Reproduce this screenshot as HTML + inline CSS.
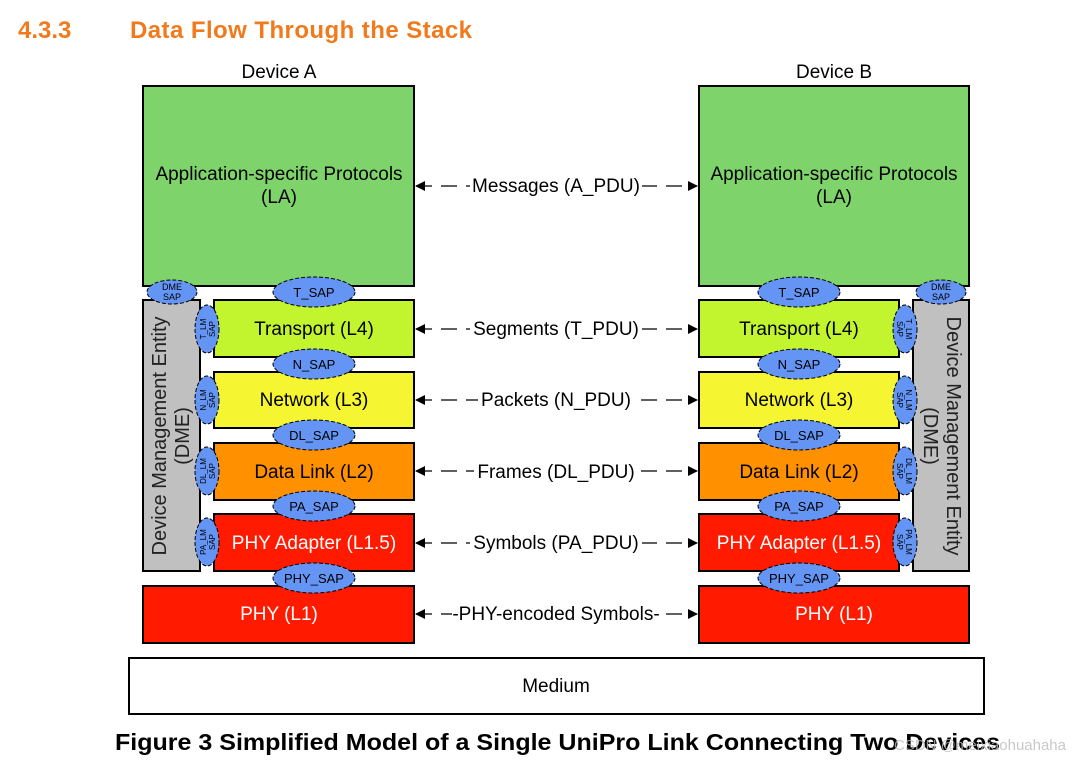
<!DOCTYPE html>
<html><head><meta charset="utf-8"><style>body{margin:0;background:#fff}svg{display:block}</style></head>
<body>
<svg width="1080" height="761" viewBox="0 0 1080 761" xmlns="http://www.w3.org/2000/svg" font-family="Liberation Sans, Arial, sans-serif">
<defs>
<marker id="ah" markerWidth="10" markerHeight="10" refX="9" refY="5" orient="auto-start-reverse" markerUnits="userSpaceOnUse"><path d="M0,0 L10,5 L0,10 z" fill="#000"/></marker>
</defs>
<text x="18" y="38" font-size="24" font-weight="bold" fill="#f07a1c">4.3.3</text>
<text x="130" y="38" font-size="24" font-weight="bold" fill="#f07a1c" textLength="342">Data Flow Through the Stack</text>
<text x="279" y="78" font-size="19" text-anchor="middle">Device A</text>
<text x="834" y="78" font-size="19" text-anchor="middle">Device B</text>

<g stroke="#000" stroke-width="2">
<rect x="143" y="86" width="271" height="200" fill="#7ed46a"/>
<rect x="143" y="300" width="57" height="271" fill="#c0c0c0"/>
<rect x="214" y="300" width="200" height="57" fill="#c3f52f"/>
<rect x="214" y="372" width="200" height="56" fill="#f5f532"/>
<rect x="214" y="443" width="200" height="57" fill="#ff9000"/>
<rect x="214" y="514" width="200" height="57" fill="#ff1a00"/>
<rect x="143" y="586" width="271" height="57" fill="#ff1a00"/>
<rect x="699" y="86" width="270" height="200" fill="#7ed46a"/>
<rect x="913" y="300" width="56" height="271" fill="#c0c0c0"/>
<rect x="699" y="300" width="200" height="57" fill="#c3f52f"/>
<rect x="699" y="372" width="200" height="56" fill="#f5f532"/>
<rect x="699" y="443" width="200" height="57" fill="#ff9000"/>
<rect x="699" y="514" width="200" height="57" fill="#ff1a00"/>
<rect x="699" y="586" width="270" height="57" fill="#ff1a00"/>
<rect x="129" y="658" width="855" height="56" fill="#fff"/>
</g>

<g font-size="19" text-anchor="middle">
<text x="279" y="180">Application-specific Protocols</text><text x="279" y="203">(LA)</text>
<text x="834" y="180">Application-specific Protocols</text><text x="834" y="203">(LA)</text>
<text x="314" y="335">Transport (L4)</text><text x="799" y="335">Transport (L4)</text>
<text x="314" y="406">Network (L3)</text><text x="799" y="406">Network (L3)</text>
<text x="314" y="478">Data Link (L2)</text><text x="799" y="478">Data Link (L2)</text>
<text x="314" y="549" fill="#fff">PHY Adapter (L1.5)</text><text x="799" y="549" fill="#fff">PHY Adapter (L1.5)</text>
<text x="279" y="620" fill="#fff">PHY (L1)</text><text x="834" y="620" fill="#fff">PHY (L1)</text>
<text x="556" y="692">Medium</text>
</g>
<text transform="translate(166,436) rotate(-90)" font-size="20" text-anchor="middle" fill="#222">Device Management Entity</text>
<text transform="translate(189,436) rotate(-90)" font-size="20" text-anchor="middle" fill="#222">(DME)</text>
<text transform="translate(947,436) rotate(90)" font-size="20" text-anchor="middle" fill="#222">Device Management Entity</text>
<text transform="translate(924,436) rotate(90)" font-size="20" text-anchor="middle" fill="#222">(DME)</text>

<g fill="#6495f5" stroke="#000" stroke-width="1" stroke-dasharray="4,2">
<ellipse cx="314" cy="292" rx="41" ry="15"/><ellipse cx="314" cy="364" rx="41" ry="15"/><ellipse cx="314" cy="435" rx="41" ry="15"/><ellipse cx="314" cy="506" rx="41" ry="15"/><ellipse cx="314" cy="578" rx="41" ry="15"/>
<ellipse cx="799" cy="292" rx="41" ry="15"/><ellipse cx="799" cy="364" rx="41" ry="15"/><ellipse cx="799" cy="435" rx="41" ry="15"/><ellipse cx="799" cy="506" rx="41" ry="15"/><ellipse cx="799" cy="578" rx="41" ry="15"/>
<ellipse cx="172" cy="292" rx="25" ry="12"/><ellipse cx="941" cy="292" rx="25" ry="12"/>
<ellipse cx="207" cy="329" rx="12" ry="24"/><ellipse cx="207" cy="400" rx="12" ry="24"/><ellipse cx="207" cy="471" rx="12" ry="24"/><ellipse cx="207" cy="542" rx="12" ry="24"/>
<ellipse cx="905" cy="329" rx="12" ry="24"/><ellipse cx="905" cy="400" rx="12" ry="24"/><ellipse cx="905" cy="471" rx="12" ry="24"/><ellipse cx="905" cy="542" rx="12" ry="24"/>
</g>
<g font-size="13" text-anchor="middle">
<text x="314" y="297">T_SAP</text><text x="314" y="369">N_SAP</text><text x="314" y="440">DL_SAP</text><text x="314" y="511">PA_SAP</text><text x="314" y="583">PHY_SAP</text>
<text x="799" y="297">T_SAP</text><text x="799" y="369">N_SAP</text><text x="799" y="440">DL_SAP</text><text x="799" y="511">PA_SAP</text><text x="799" y="583">PHY_SAP</text>
</g>
<g font-size="9" text-anchor="middle">
<text x="172" y="290">DME</text><text x="172" y="300">SAP</text>
<text x="941" y="290">DME</text><text x="941" y="300">SAP</text>
</g>
<g font-size="8" text-anchor="middle">
<g transform="translate(207,329) rotate(-90)"><text x="0" y="-1">T_LM</text><text x="0" y="8">SAP</text></g>
<g transform="translate(207,400) rotate(-90)"><text x="0" y="-1">N_LM</text><text x="0" y="8">SAP</text></g>
<g transform="translate(207,471) rotate(-90)"><text x="0" y="-1">DL_LM</text><text x="0" y="8">SAP</text></g>
<g transform="translate(207,542) rotate(-90)"><text x="0" y="-1">PA_LM</text><text x="0" y="8">SAP</text></g>
<g transform="translate(905,329) rotate(90)"><text x="0" y="-1">T_LM</text><text x="0" y="8">SAP</text></g>
<g transform="translate(905,400) rotate(90)"><text x="0" y="-1">N_LM</text><text x="0" y="8">SAP</text></g>
<g transform="translate(905,471) rotate(90)"><text x="0" y="-1">DL_LM</text><text x="0" y="8">SAP</text></g>
<g transform="translate(905,542) rotate(90)"><text x="0" y="-1">PA_LM</text><text x="0" y="8">SAP</text></g>
</g>

<g stroke="#000" stroke-width="1.3" stroke-dasharray="16,9" fill="none">
<line x1="416" y1="186" x2="697" y2="186" marker-start="url(#ah)" marker-end="url(#ah)"/>
<line x1="416" y1="329" x2="697" y2="329" marker-start="url(#ah)" marker-end="url(#ah)"/>
<line x1="416" y1="400" x2="697" y2="400" marker-start="url(#ah)" marker-end="url(#ah)"/>
<line x1="416" y1="471" x2="697" y2="471" marker-start="url(#ah)" marker-end="url(#ah)"/>
<line x1="416" y1="543" x2="697" y2="543" marker-start="url(#ah)" marker-end="url(#ah)"/>
<line x1="416" y1="614" x2="697" y2="614" marker-start="url(#ah)" marker-end="url(#ah)"/>
</g>
<g font-size="19" text-anchor="middle">
<rect x="470" y="174" width="172" height="24" fill="#fff"/><text x="556" y="192">Messages (A_PDU)</text>
<rect x="470" y="317" width="172" height="24" fill="#fff"/><text x="556" y="335">Segments (T_PDU)</text>
<rect x="478" y="388" width="156" height="24" fill="#fff"/><text x="556" y="406">Packets (N_PDU)</text>
<rect x="474" y="459" width="164" height="24" fill="#fff"/><text x="556" y="478">Frames (DL_PDU)</text>
<rect x="470" y="531" width="172" height="24" fill="#fff"/><text x="556" y="549">Symbols (PA_PDU)</text>
<rect x="452" y="602" width="208" height="24" fill="#fff"/><text x="556" y="620">-PHY-encoded Symbols-</text>
</g>
<text x="115" y="750" font-size="23" font-weight="bold" textLength="885" lengthAdjust="spacingAndGlyphs">Figure 3 Simplified Model of a Single UniPro Link Connecting Two Devices</text>
<text x="1066" y="750" font-size="15" text-anchor="end" fill="#bbb" opacity="0.8">CSDN @meixiaohuahaha</text>
</svg>
</body></html>
